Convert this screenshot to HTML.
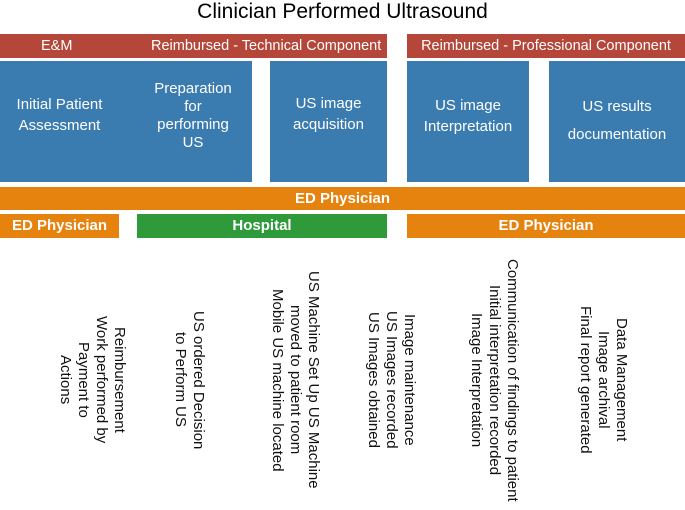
<!DOCTYPE html>
<html><head><meta charset="utf-8"><style>
body{margin:0;width:685px;height:501px;background:#fff;position:relative;overflow:hidden;font-family:"Liberation Sans",sans-serif;}
div{position:absolute;box-sizing:border-box;}
.r{background:#b4473a;color:#fff;font-size:14.5px;height:24px;top:34px;line-height:24px;}
.b{background:#3a7bb0;top:61px;height:121px;}
.t{color:#fff;font-size:15px;text-align:center;line-height:21px;}
.o{background:#e6830f;color:#fff;font-weight:bold;font-size:15px;text-align:center;line-height:24px;height:24px;}
.v{writing-mode:vertical-rl;font-size:15px;line-height:18px;text-align:center;color:#111;top:250px;height:260px;display:flex;justify-content:center;}
</style></head><body>
<div style="left:0;width:685px;top:0;text-align:center;font-size:21px;line-height:24px;">Clinician Performed Ultrasound</div>
<div class="r" style="left:0;width:387px;"><span style="position:absolute;left:41px;">E&amp;M</span><span style="position:absolute;left:151px;">Reimbursed - Technical Component</span></div>
<div class="r" style="left:407px;width:278px;text-align:center;">Reimbursed - Professional Component</div>
<div class="b" style="left:0;width:252px;"></div>
<div class="b" style="left:270px;width:117px;"></div>
<div class="b" style="left:407px;width:122px;"></div>
<div class="b" style="left:549px;width:136px;"></div>
<div class="t" style="left:0;width:119px;top:94px;">Initial Patient<br>Assessment</div>
<div class="t" style="left:133px;width:120px;top:80px;line-height:18px;">Preparation<br>for<br>performing<br>US</div>
<div class="t" style="left:270px;width:117px;top:93px;">US image<br>acquisition</div>
<div class="t" style="left:407px;width:122px;top:95px;">US image<br>Interpretation</div>
<div class="t" style="left:549px;width:136px;top:93px;line-height:28px;">US results<br>documentation</div>
<div class="o" style="left:0;width:685px;top:187px;height:23px;">ED Physician</div>
<div class="o" style="left:0;width:119px;top:214px;">ED Physician</div>
<div class="o" style="left:137px;width:250px;top:214px;background:#2e9a3a;">Hospital</div>
<div class="o" style="left:407px;width:278px;top:214px;">ED Physician</div>
<div class="v" style="left:48px;width:80px;">Reimbursement<br>Work performed by<br>Payment to<br>Actions</div>
<div class="v" style="left:165px;width:42px;">US ordered Decision<br>to Perform US</div>
<div class="v" style="left:258px;width:64px;">US Machine Set Up US Machine<br>moved to patient room<br>Mobile US machine located</div>
<div class="v" style="left:354px;width:64px;">Image maintenance<br>US Images recorded<br>US Images obtained</div>
<div class="v" style="left:457px;width:64px;">Communication of findings to patient<br>Initial interpretation recorded<br>Image Interpretation</div>
<div class="v" style="left:566px;width:64px;">Data Management<br>Image archival<br>Final report generated</div>
</body></html>
